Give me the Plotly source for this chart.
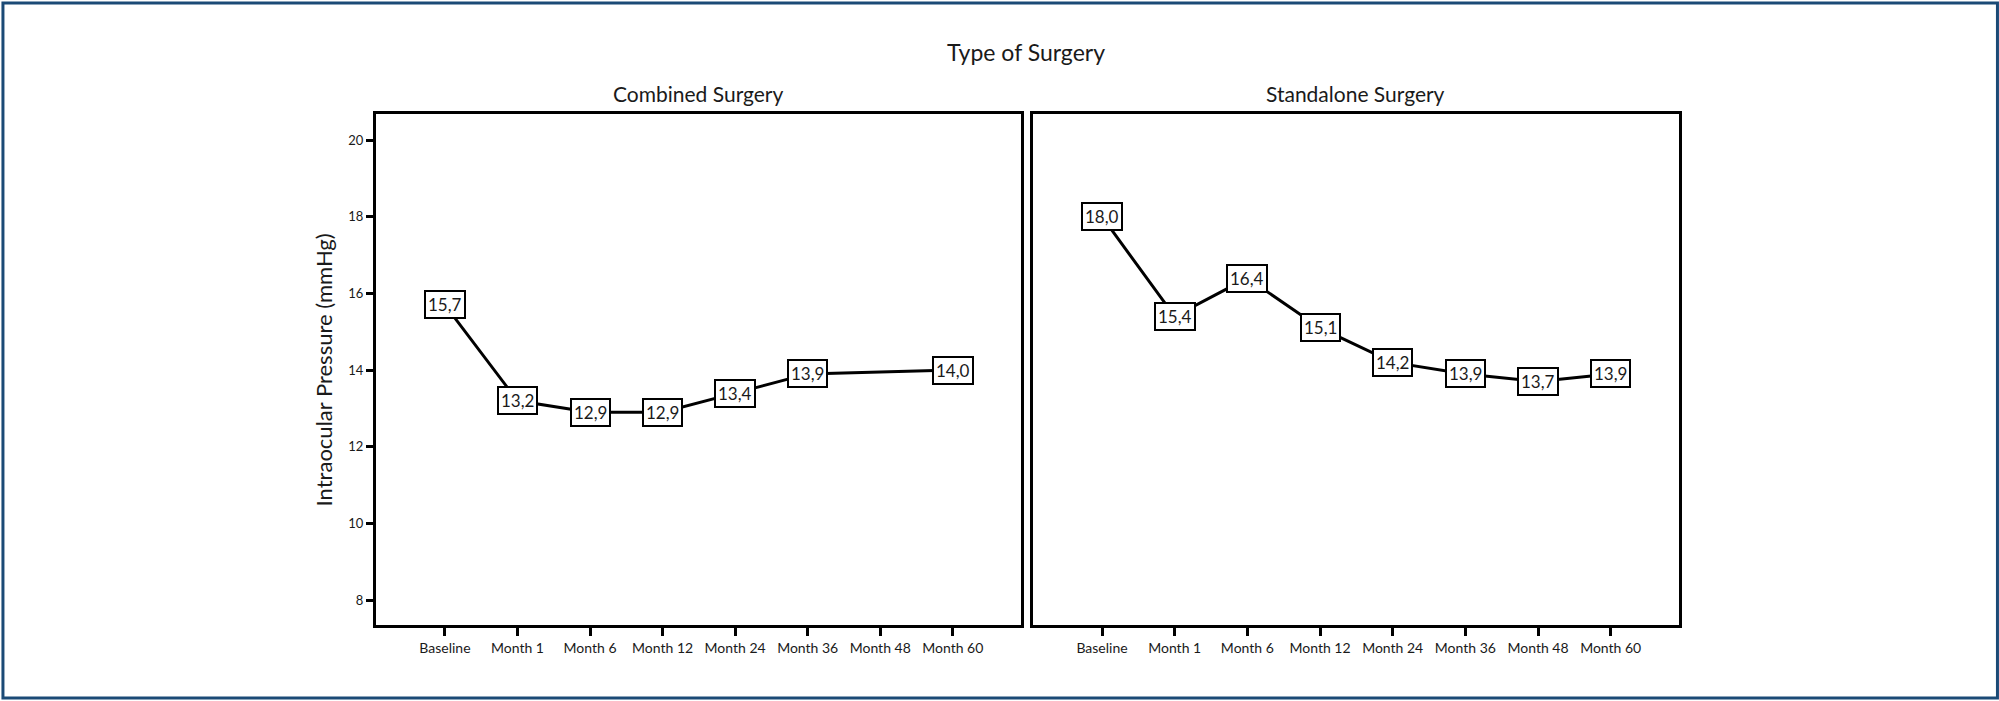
import plotly.graph_objects as go

# data
timepoints = ["Baseline", "Month 1", "Month 6", "Month 12",
              "Month 24", "Month 36", "Month 48", "Month 60"]
combined_iop = [15.7, 13.2, 12.9, 12.9, 13.4, 13.9, None, 14.0]
standalone_iop = [18.0, 15.4, 16.4, 15.1, 14.2, 13.9, 13.7, 13.9]
panel_titles = ["Combined Surgery", "Standalone Surgery"]
y_ticks = [8, 10, 12, 14, 16, 18, 20]

FONT = "Lato, 'Open Sans', sans-serif"
INK = "#1a1a1a"

fig = go.Figure()

panels = [(combined_iop, "x", "y"), (standalone_iop, "x2", "y2")]
for values, xa, ya in panels:
    fig.add_trace(go.Scatter(
        x=timepoints, y=values, xaxis=xa, yaxis=ya,
        mode="lines", connectgaps=True,
        line=dict(color="black", width=3),
        hoverinfo="skip", showlegend=False,
    ))
    # boxed value labels sitting on the points
    for t, v in zip(timepoints, values):
        if v is None:
            continue
        fig.add_annotation(
            x=t, y=v, xref=xa, yref=ya,
            text=f"{v:.1f}".replace(".", ","),
            showarrow=False, xanchor="center", yanchor="middle",
            font=dict(family=FONT, size=17, color=INK),
            bgcolor="white", bordercolor="black",
            borderwidth=2, borderpad=2,
        )

axis_common = dict(
    showline=True, mirror=True, linecolor="black", linewidth=3,
    showgrid=False, zeroline=False,
    ticks="outside", tickcolor="black", tickwidth=3,
)

fig.update_layout(
    width=1999, height=701,
    margin=dict(l=376, r=320, t=114, b=76),
    paper_bgcolor="white", plot_bgcolor="white",
    font=dict(family=FONT, color=INK),
    xaxis=dict(domain=[0, 0.495], range=[-0.95, 7.94], ticklen=8,
               tickfont=dict(size=14), anchor="y", **axis_common),
    xaxis2=dict(domain=[0.5042, 1], range=[-0.95, 7.94], ticklen=8,
                tickfont=dict(size=14), anchor="y2", **axis_common),
    yaxis=dict(range=[7.35, 20.68], tickvals=y_ticks, ticklen=7,
               tickfont=dict(size=13), anchor="x", **axis_common),
    yaxis2=dict(range=[7.35, 20.68], showticklabels=False, anchor="x2",
                showline=True, mirror=True, linecolor="black", linewidth=3,
                showgrid=False, zeroline=False, ticks=""),
)

# titles
fig.add_annotation(text="Type of Surgery", xref="paper", yref="paper",
                   x=0.4988, y=1.122, showarrow=False,
                   xanchor="center", yanchor="middle",
                   font=dict(family=FONT, size=23, color=INK))
for title, cx in zip(panel_titles, [0.2475, 0.752]):
    fig.add_annotation(text=title, xref="paper", yref="paper",
                       x=cx, y=1.041, showarrow=False,
                       xanchor="center", yanchor="middle",
                       font=dict(family=FONT, size=21, color=INK))
fig.add_annotation(text="Intraocular Pressure (mmHg)", xref="paper",
                   yref="paper", x=-0.040, y=0.5, textangle=-90,
                   showarrow=False, xanchor="center", yanchor="middle",
                   font=dict(family=FONT, size=22, color=INK))

# dark blue frame round the whole picture
fig.add_shape(type="rect", xref="paper", yref="paper",
              x0=-0.2863, x1=1.2444, y0=-0.1429, y1=1.2172,
              line=dict(color="#1b4a76", width=3), layer="above")

# page body has a default margin; drop it so the figure fills the window
fig.write_html("out.html",
               config={"displayModeBar": False},
               post_script="document.body.style.margin='0';"
                           "document.body.style.overflow='hidden';")
